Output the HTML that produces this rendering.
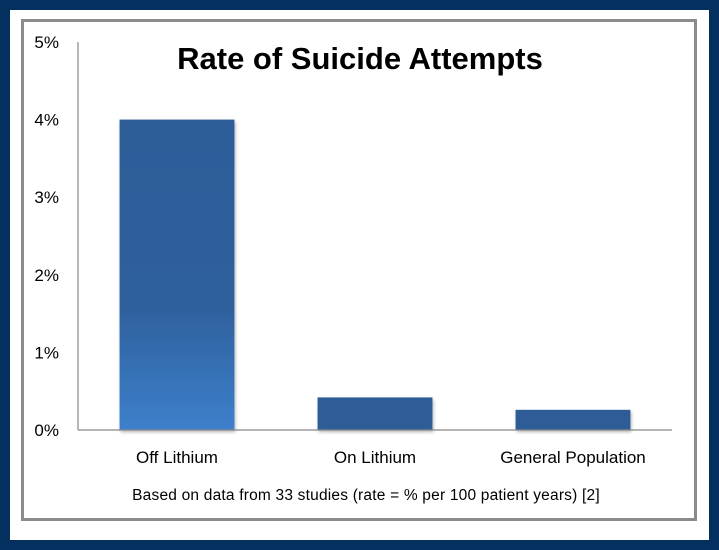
<!DOCTYPE html>
<html><head><meta charset="utf-8"><style>
html,body{margin:0;padding:0;}
body{width:719px;height:550px;background:#03305f;position:relative;overflow:hidden;font-family:"Liberation Sans",sans-serif;}
#inner{position:absolute;left:10px;top:10px;width:699px;height:530px;background:#fff;}
#frame{position:absolute;left:21px;top:19px;width:670px;height:496px;border:3px solid #8c8c8c;}
svg{position:absolute;left:0;top:0;}
</style></head><body>
<div id="inner"></div>
<div id="frame"></div>
<svg width="719" height="550" id="chart">
<defs>
<linearGradient id="g1" x1="0" y1="0" x2="0" y2="1">
<stop offset="0" stop-color="#2d5d98"/><stop offset="0.6" stop-color="#2e609c"/><stop offset="1" stop-color="#3d80cc"/>
</linearGradient>
<filter id="sh" x="-10%" y="-10%" width="130%" height="130%"><feDropShadow dx="1" dy="2" stdDeviation="1.5" flood-color="#000" flood-opacity="0.3"/></filter>
</defs>
<text x="360" y="69" text-anchor="middle" font-size="31" font-weight="bold" fill="#000">Rate of Suicide Attempts</text>
<g id="yaxis"></g><g id="bars"></g><g id="xaxis"></g>
<text x="366" y="500" text-anchor="middle" font-size="15.5" letter-spacing="0.2" fill="#000">Based on data from 33 studies (rate = % per 100 patient years) [2]</text>
</svg>
<script>
const categories=["Off Lithium","On Lithium","General Population"];
const values=[4.0,0.42,0.26];
const yTicks=[0,1,2,3,4,5];
const yTickLabels=["0%","1%","2%","3%","4%","5%"];
const ns="http://www.w3.org/2000/svg";
const x0=78,x1=672,y0=430,yTop=42,yMax=5;
const y=v=>y0-(v/yMax)*(y0-yTop);
const band=(x1-x0)/categories.length;
function mk(t,a,p){const e=document.createElementNS(ns,t);for(const k in a)e.setAttribute(k,a[k]);p.appendChild(e);return e;}
const ya=document.getElementById('yaxis');
yTicks.forEach((t,i)=>{const e=mk('text',{x:59,y:y(t)+6,'text-anchor':'end','font-size':17,fill:'#000'},ya);e.textContent=yTickLabels[i];

});
const yl=mk('line',{x1:x0,y1:yTop,x2:x0,y2:y0,stroke:'#888','stroke-width':1.2},ya);


const bg=document.getElementById('bars');
values.forEach((v,i)=>{const bw=band*0.58,bx=x0+band*i+(band-bw)/2;
const r=mk('rect',{x:bx,y:y(v),width:bw,height:y0-y(v),fill:i===0?'url(#g1)':'#2d5c96',filter:'url(#sh)'},bg);


const t=mk('text',{x:x0+band*i+band/2,y:463,'text-anchor':'middle','font-size':17,fill:'#000'},document.getElementById('xaxis'));
t.textContent=categories[i];

});
const xl=mk('line',{x1:x0,y1:y0,x2:x1,y2:y0,stroke:'#888','stroke-width':1.2},document.getElementById('xaxis'));


</script>
</body></html>
